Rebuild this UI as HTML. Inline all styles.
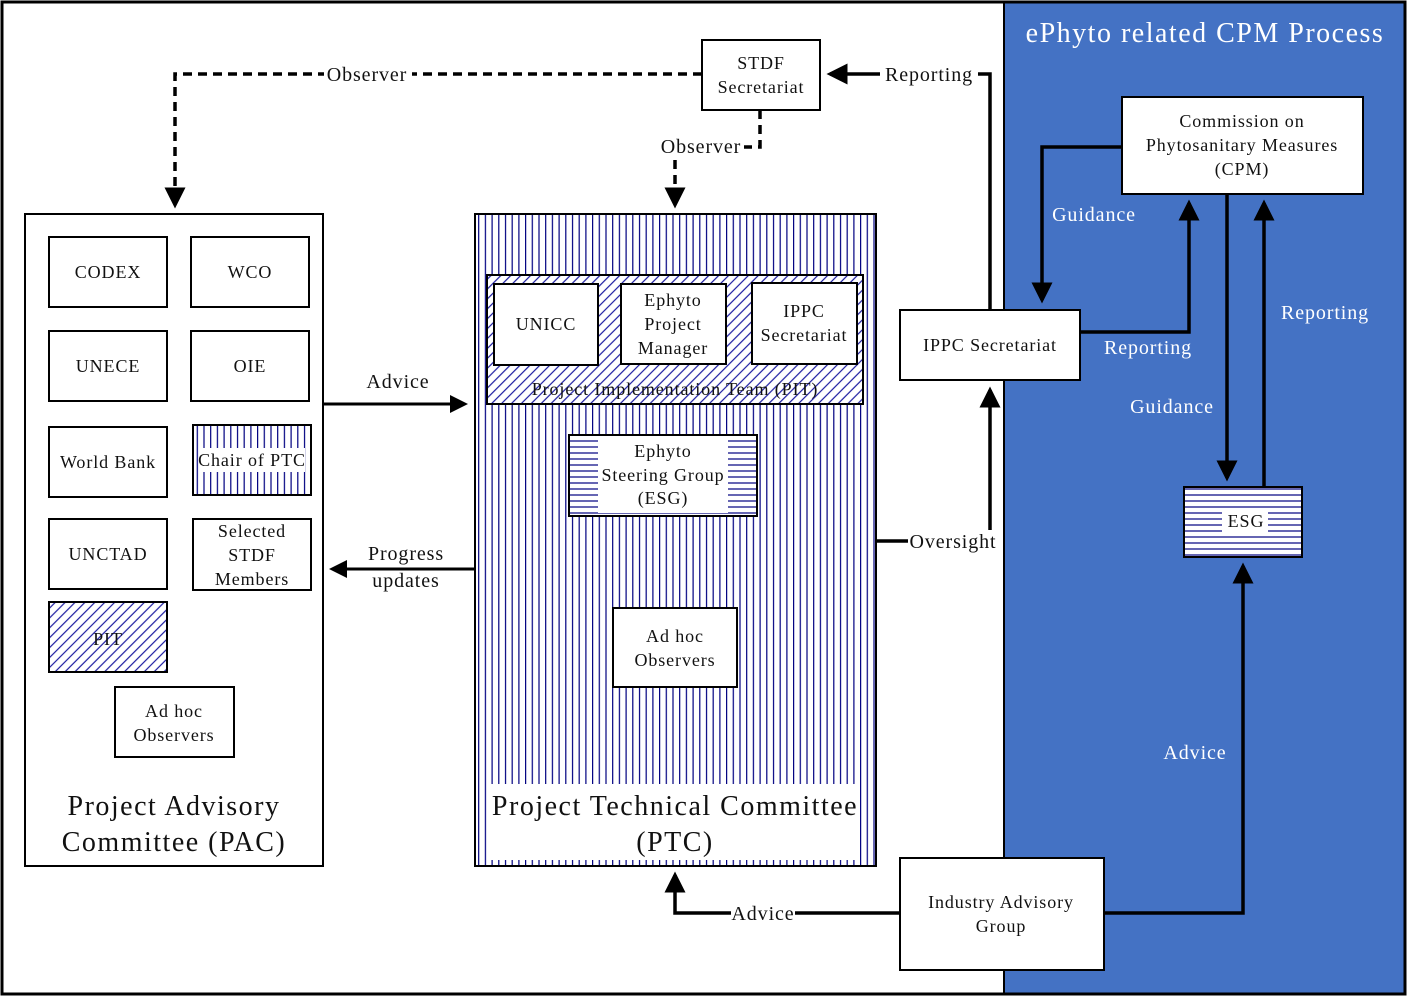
<!DOCTYPE html>
<html><head><meta charset="utf-8"><style>
html,body{margin:0;padding:0;background:#fff}
svg{display:block}
text{font-family:"Liberation Serif",serif;fill:#111}
.s{letter-spacing:0.9px}
.b{letter-spacing:1.5px}
</style></head><body>
<svg width="1408" height="997" viewBox="0 0 1408 997" xmlns="http://www.w3.org/2000/svg">
<defs>
<pattern id="vs" width="6.7" height="10" patternUnits="userSpaceOnUse"><rect width="6.7" height="10" fill="#fff"/><line x1="3" y1="0" x2="3" y2="10" stroke="#000080" stroke-width="1.2"/></pattern>
<pattern id="hs" width="10" height="6" patternUnits="userSpaceOnUse"><rect width="10" height="6" fill="#fff"/><line x1="0" y1="3" x2="10" y2="3" stroke="#000080" stroke-width="1.2"/></pattern>
<pattern id="dg" width="7" height="7" patternUnits="userSpaceOnUse" patternTransform="rotate(45)"><rect width="7" height="7" fill="#fff"/><line x1="3" y1="0" x2="3" y2="7" stroke="#1a1aa0" stroke-width="1.2"/></pattern>
<marker id="ah" markerWidth="6" markerHeight="6" refX="5" refY="3" orient="auto" markerUnits="strokeWidth"><path d="M0,0 L6,3 L0,6 z" fill="#000"/></marker>
</defs>
<rect x="0" y="0" width="1408" height="997" fill="#fff"/>
<rect x="1005" y="2" width="400" height="992" fill="#4472c4"/>
<rect x="2" y="2" width="1403" height="992" fill="none" stroke="#000" stroke-width="3"/>
<line x1="1004" y1="2" x2="1004" y2="994" stroke="#000" stroke-width="2"/>
<text x="1205" y="42" font-size="28" text-anchor="middle" class="b" style="fill:#fff">ePhyto related CPM Process</text>

<g stroke="#000" stroke-width="4" fill="none">
<path d="M702,74 H175 V205" stroke-dasharray="9,6" marker-end="url(#ah)" stroke-width="3.5"/>
<path d="M760,110 V147 H675 V205" stroke-dasharray="9,6" marker-end="url(#ah)" stroke-width="3.5"/>
<path d="M990,310 V74 H830" marker-end="url(#ah)" stroke-width="3.5"/>
<path d="M323,404 H465" marker-end="url(#ah)" stroke-width="3"/>
<path d="M474,569 H332" marker-end="url(#ah)" stroke-width="3"/>
<path d="M876,541 H990 V390" marker-end="url(#ah)" stroke-width="3.5"/>
<path d="M1122,147 H1042 V300" marker-end="url(#ah)" stroke-width="3.5"/>
<path d="M1080,332 H1189 V203" marker-end="url(#ah)" stroke-width="3.5"/>
<path d="M1227,194 V478" marker-end="url(#ah)" stroke-width="3.5"/>
<path d="M1264,488 V203" marker-end="url(#ah)" stroke-width="3.5"/>
<path d="M1104,913 H1243 V566" marker-end="url(#ah)" stroke-width="3.5"/>
<path d="M900,913 H675 V875" marker-end="url(#ah)" stroke-width="3.5"/>
</g>

<g font-size="20" text-anchor="middle" class="s">
<rect x="324" y="63" width="88" height="22" fill="#fff"/><text x="367" y="81">Observer</text>
<rect x="658" y="135" width="86" height="22" fill="#fff"/><text x="701" y="153">Observer</text>
<rect x="880" y="63" width="98" height="22" fill="#fff"/><text x="929" y="81">Reporting</text>
<text x="398" y="388">Advice</text>
<text x="406" y="560">Progress</text><text x="406" y="587">updates</text>
<rect x="908" y="530" width="92" height="22" fill="#fff"/><text x="953" y="548">Oversight</text>
<rect x="731" y="902" width="64" height="22" fill="#fff"/><text x="763" y="920">Advice</text>
<text x="1094" y="221" style="fill:#fff">Guidance</text>
<text x="1148" y="354" style="fill:#fff">Reporting</text>
<text x="1172" y="413" style="fill:#fff">Guidance</text>
<text x="1325" y="319" style="fill:#fff">Reporting</text>
<text x="1195" y="759" style="fill:#fff">Advice</text>
</g>

<g stroke="#000" stroke-width="2">
<rect x="702" y="40" width="118" height="70" fill="#fff"/>
<rect x="25" y="214" width="298" height="652" fill="#fff"/>
<rect x="49" y="237" width="118" height="70" fill="#fff"/>
<rect x="191" y="237" width="118" height="70" fill="#fff"/>
<rect x="49" y="331" width="118" height="70" fill="#fff"/>
<rect x="191" y="331" width="118" height="70" fill="#fff"/>
<rect x="49" y="427" width="118" height="70" fill="#fff"/>
<rect x="193" y="425" width="118" height="70" fill="url(#vs)"/>
<rect x="49" y="519" width="118" height="70" fill="#fff"/>
<rect x="193" y="519" width="118" height="71" fill="#fff"/>
<rect x="49" y="602" width="118" height="70" fill="url(#dg)"/>
<rect x="115" y="687" width="119" height="70" fill="#fff"/>
<rect x="475" y="214" width="401" height="652" fill="url(#vs)"/>
<rect x="487" y="275" width="376" height="129" fill="url(#dg)"/>
<rect x="494" y="284" width="104" height="81" fill="#fff"/>
<rect x="621" y="284" width="105" height="80" fill="#fff"/>
<rect x="752" y="283" width="105" height="81" fill="#fff"/>
<rect x="569" y="435" width="188" height="81" fill="url(#hs)"/>
<rect x="613" y="608" width="124" height="79" fill="#fff"/>
<rect x="900" y="310" width="180" height="70" fill="#fff"/>
<rect x="1122" y="97" width="241" height="97" fill="#fff"/>
<rect x="1184" y="487" width="118" height="70" fill="url(#hs)"/>
<rect x="900" y="858" width="204" height="112" fill="#fff"/>
</g>
<rect x="598" y="438" width="130" height="75" fill="#fff"/>
<rect x="490" y="784" width="370" height="76" fill="#fff"/>

<g font-size="18" text-anchor="middle" class="s">
<text x="761" y="69">STDF</text><text x="761" y="93">Secretariat</text>
<text x="108" y="278">CODEX</text><text x="250" y="278">WCO</text>
<text x="108" y="372">UNECE</text><text x="250" y="372">OIE</text>
<text x="108" y="468">World Bank</text>
<rect x="199" y="448" width="106" height="24" fill="#fff"/><text x="252" y="466">Chair of PTC</text>
<text x="108" y="560">UNCTAD</text>
<text x="252" y="537">Selected</text><text x="252" y="561">STDF</text><text x="252" y="585">Members</text>
<text x="108" y="645">PIT</text>
<text x="174" y="717">Ad hoc</text><text x="174" y="741">Observers</text>
<text x="546" y="330">UNICC</text>
<text x="673" y="306">Ephyto</text><text x="673" y="330">Project</text><text x="673" y="354">Manager</text>
<text x="804" y="317">IPPC</text><text x="804" y="341">Secretariat</text>
<text x="675" y="395">Project Implementation Team (PIT)</text>
<text x="663" y="457">Ephyto</text><text x="663" y="481">Steering Group</text><text x="663" y="504">(ESG)</text>
<text x="675" y="642">Ad hoc</text><text x="675" y="666">Observers</text>
<text x="990" y="351">IPPC Secretariat</text>
<text x="1242" y="127">Commission on</text><text x="1242" y="151">Phytosanitary Measures</text><text x="1242" y="175">(CPM)</text>
<rect x="1222" y="510" width="46" height="22" fill="#fff"/><text x="1246" y="527">ESG</text>
<text x="1001" y="908">Industry Advisory</text><text x="1001" y="932">Group</text>
</g>
<g font-size="28" text-anchor="middle" class="b">
<text x="174" y="815">Project Advisory</text><text x="174" y="851">Committee (PAC)</text>
<text x="675" y="815">Project Technical Committee</text><text x="675" y="851">(PTC)</text>
</g>
</svg>
</body></html>
